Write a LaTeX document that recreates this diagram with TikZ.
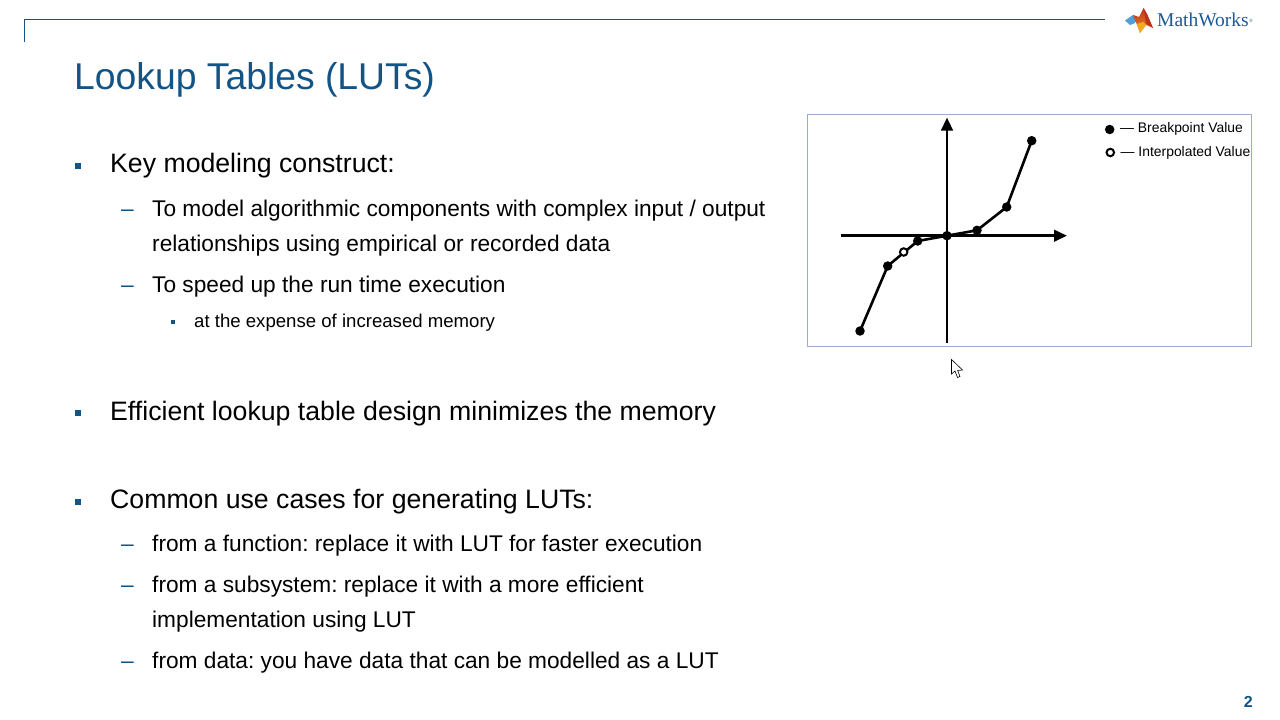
\documentclass[tikz,border=0pt]{standalone}
\usepackage{fontspec}
\setmainfont{Liberation Sans}
\newfontfamily\logofont{Liberation Serif}
\usetikzlibrary{arrows.meta}
\definecolor{mwblue}{RGB}{18,84,134}
\definecolor{framec}{RGB}{150,175,205}
\definecolor{logoblue}{RGB}{30,90,150}
\definecolor{logored}{RGB}{190,50,25}
\definecolor{logoorange}{RGB}{240,150,40}
\definecolor{logosky}{RGB}{80,160,215}
\tikzset{
 x=1pt,y=-1pt,
 title/.style={anchor=base west,inner sep=0,font=\fontsize{37.3}{37.3}\selectfont,text=mwblue},
 lvla/.style={anchor=base west,inner sep=0,font=\fontsize{26.67}{26.67}\selectfont},
 lvlb/.style={anchor=base west,inner sep=0,font=\fontsize{22.7}{22.7}\selectfont},
 lvlc/.style={anchor=base west,inner sep=0,font=\fontsize{18.6}{18.6}\selectfont},
 dasha/.style={anchor=base west,inner sep=0,font=\fontsize{22.7}{22.7}\selectfont,text=mwblue},
 sqa/.style={fill=mwblue,draw=none,minimum size=6pt,inner sep=0,rectangle},
 sqc/.style={fill=mwblue,draw=none,minimum size=4pt,inner sep=0,rectangle},
 bp/.style={circle,fill=black,draw=none,minimum size=9.5pt,inner sep=0},
 ip/.style={circle,fill=white,draw=black,line width=2pt,minimum size=7.5pt,inner sep=0},
 axisline/.style={line width=2.7pt,-{Triangle[length=13pt,width=11.5pt]}},
 curve/.style={line width=2.6pt},
 leg/.style={anchor=base west,inner sep=0,font=\fontsize{13.9}{13.9}\selectfont},
}
\begin{document}
\frenchspacing
\begin{tikzpicture}
\useasboundingbox (0,0) rectangle (1280,720);
\fill[white] (0,0) rectangle (1280,720);
% header rule
\coordinate (ra) at (24.5,41.5);
\coordinate (rb) at (24.5,19.5);
\coordinate (rc) at (1105,19.5);
\draw[mwblue,line width=0.9pt] (ra) -- (rb) -- (rc);
% logo
\fill[logosky] (1125,20.5) -- (1133,15) -- (1139,19) -- (1134,23.5) -- (1130,25) -- cycle;
\shade[left color=logored,right color=logoorange,shading angle=20] (1133,15) -- (1139,17) -- (1143.5,8) -- (1147,14) -- (1153,28) -- (1146,25) -- (1140,33) -- (1137,25) -- cycle;
\fill[logored] (1143.5,8) -- (1147,14) -- (1153,28) -- (1146,24) -- cycle;
\fill[logoorange!80!yellow] (1137,24) -- (1143,22) -- (1146,25) -- (1140,33) -- cycle;
\node[anchor=base west,inner sep=0,font=\logofont\fontsize{19.5}{19.5}\selectfont,text=logoblue] (logo) at (1157,26.5) {MathWorks};
\node[anchor=base west,inner sep=0,font=\logofont\fontsize{5}{5}\selectfont,text=logoblue] (logor) at (1249,22.5) {®};
% title
\node[title] (t) at (74,89) {Lookup Tables (LUTs)};
% body
\node[sqa] (s1) at (78,166) {};
\node[lvla] (a1) at (110,172) {Key modeling construct:};
\node[dasha] (d1) at (121,216) {–};
\node[lvlb] (b1) at (152,216) {To model algorithmic components with complex input / output};
\node[lvlb] (b1x) at (152,251) {relationships using empirical or recorded data};
\node[dasha] (d2) at (121,292) {–};
\node[lvlb] (b2) at (152,292) {To speed up the run time execution};
\node[sqc] (s2) at (173,322) {};
\node[lvlc] (c1) at (194,327) {at the expense of increased memory};
\node[sqa] (s3) at (78,413) {};
\node[lvla] (a2) at (110,420) {Efficient lookup table design minimizes the memory};
\node[sqa] (s4) at (78,502) {};
\node[lvla] (a3) at (110,508) {Common use cases for generating LUTs:};
\node[dasha] (d3) at (121,551) {–};
\node[lvlb] (b3) at (152,551) {from a function: replace it with LUT for faster execution};
\node[dasha] (d4) at (121,592) {–};
\node[lvlb] (b4) at (152,592) {from a subsystem: replace it with a more efficient};
\node[lvlb] (b4x) at (152,627) {implementation using LUT};
\node[dasha] (d5) at (121,668) {–};
\node[lvlb] (b5) at (152,668) {from data: you have data that can be modelled as a LUT};
\node[anchor=base east,inner sep=0,font=\bfseries\fontsize{16}{16}\selectfont,text=mwblue] (pg) at (1253,707) {2};
% chart frame
\draw[framec,line width=0.9pt] (807.5,114.5) rectangle (1251.5,346.5);
% axes
\coordinate (xa) at (840.5,235.7);
\coordinate (xb) at (1067,235.7);
\coordinate (ya) at (947,342.5);
\coordinate (yb) at (947,117.5);
\draw[axisline] (xa) -- (xb);
\draw[axisline] (ya) -- (yb);
% points
\node[bp] (p1) at (860,331) {};
\node[bp] (p2) at (887.7,266) {};
\node[bp] (p3) at (917.7,241) {};
\node[bp] (p4) at (947,235.7) {};
\node[bp] (p5) at (977,230.3) {};
\node[bp] (p6) at (1006.7,207) {};
\node[bp] (p7) at (1031.7,140.7) {};
\draw[curve] (p1.center) -- (p2.center) -- (p3.center) -- (p4.center) -- (p5.center) -- (p6.center) -- (p7.center);
\node[ip] (ih) at (903.7,252) {};
% legend
\node[bp] (l1) at (1109.7,129.5) {};
\node[ip] (l2) at (1110.3,152.5) {};
\node[leg] (lt1) at (1120,132.5) {— Breakpoint Value};
\node[leg] (lt2) at (1120.5,156.5) {— Interpolated Value};
% mouse cursor
\draw[black,line width=0.6pt,fill=white,line join=miter] (951.5,359.5) -- (951.5,374) -- (955,371) -- (957.5,377.5) -- (960,376.5) -- (957.7,370.5) -- (962.5,370) -- cycle;
\end{tikzpicture}
\end{document}
